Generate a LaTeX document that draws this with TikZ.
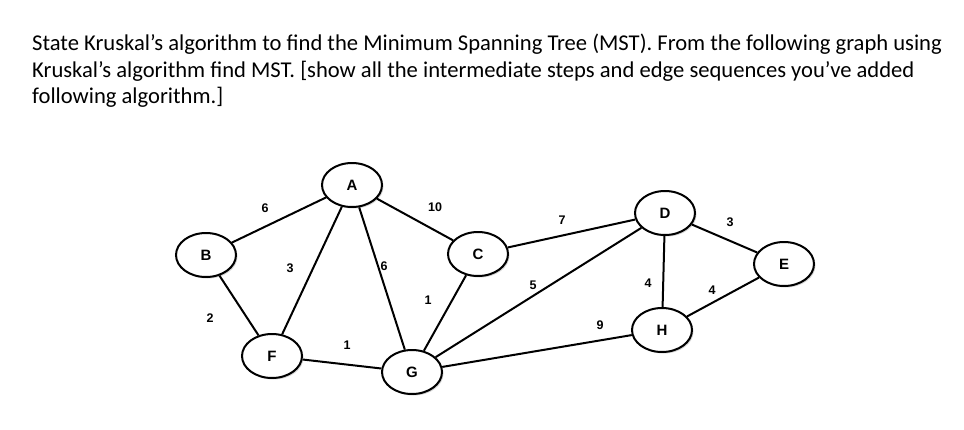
\documentclass[tikz,border=0pt]{standalone}
\usepackage{fontspec}
\setmainfont{Carlito}
\newfontfamily\lblfont{Liberation Sans}
\usetikzlibrary{shapes.geometric,shadows}
\begin{document}
\begin{tikzpicture}[x=1pt,y=-1pt,
  vert/.style={ellipse,draw,line width=2pt,fill=white,minimum width=60pt,minimum height=44pt,inner sep=0pt,font=\lblfont\bfseries\fontsize{15}{15}\selectfont,drop shadow={shadow xshift=1.5pt,shadow yshift=-1.5pt,fill=black!35}},
  edge/.style={line width=2pt},
  wt/.style={font=\lblfont\bfseries\fontsize{12.5}{12.5}\selectfont},
  qline/.style={anchor=base west,inner sep=0pt,font=\fontsize{22.6}{22.6}\selectfont}]
\useasboundingbox (0,0) rectangle (964,429);
\node[qline] (l1) at (32,50) {State Kruskal’s algorithm to find the Minimum Spanning Tree (MST). From the following graph using};
\node[qline] (l2) at (32,77) {Kruskal’s algorithm find MST. [show all the intermediate steps and edge sequences you’ve added};
\node[qline] (l3) at (32,103) {following algorithm.]};
\node[vert] (A) at (352,185) {A};
\node[vert] (B) at (206,255) {B};
\node[vert] (C) at (478,254) {C};
\node[vert] (D) at (665,213) {D};
\node[vert] (E) at (784,264) {E};
\node[vert] (F) at (272,356) {F};
\node[vert] (G) at (412,372) {G};
\node[vert] (H) at (662,330) {H};
\draw[edge] (B) -- (A);
\draw[edge] (B) -- (F);
\draw[edge] (A) -- (F);
\draw[edge] (A) -- (G);
\draw[edge] (A) -- (C);
\draw[edge] (C) -- (G);
\draw[edge] (F) -- (G);
\draw[edge] (C) -- (D);
\draw[edge] (G) -- (D);
\draw[edge] (G) -- (H);
\draw[edge] (D) -- (H);
\draw[edge] (D) -- (E);
\draw[edge] (H) -- (E);
\node[wt] (w1) at (265,208) {6};
\node[wt] (w2) at (290,268) {3};
\node[wt] (w3) at (210,318) {2};
\node[wt] (w4) at (384,266) {6};
\node[wt] (w5) at (435,207) {10};
\node[wt] (w6) at (428,300) {1};
\node[wt] (w7) at (347,345) {1};
\node[wt] (w8) at (562,220) {7};
\node[wt] (w9) at (533,285) {5};
\node[wt] (w10) at (648,283) {4};
\node[wt] (w11) at (730,222) {3};
\node[wt] (w12) at (712,290) {4};
\node[wt] (w13) at (600,325) {9};
\end{tikzpicture}
\end{document}
